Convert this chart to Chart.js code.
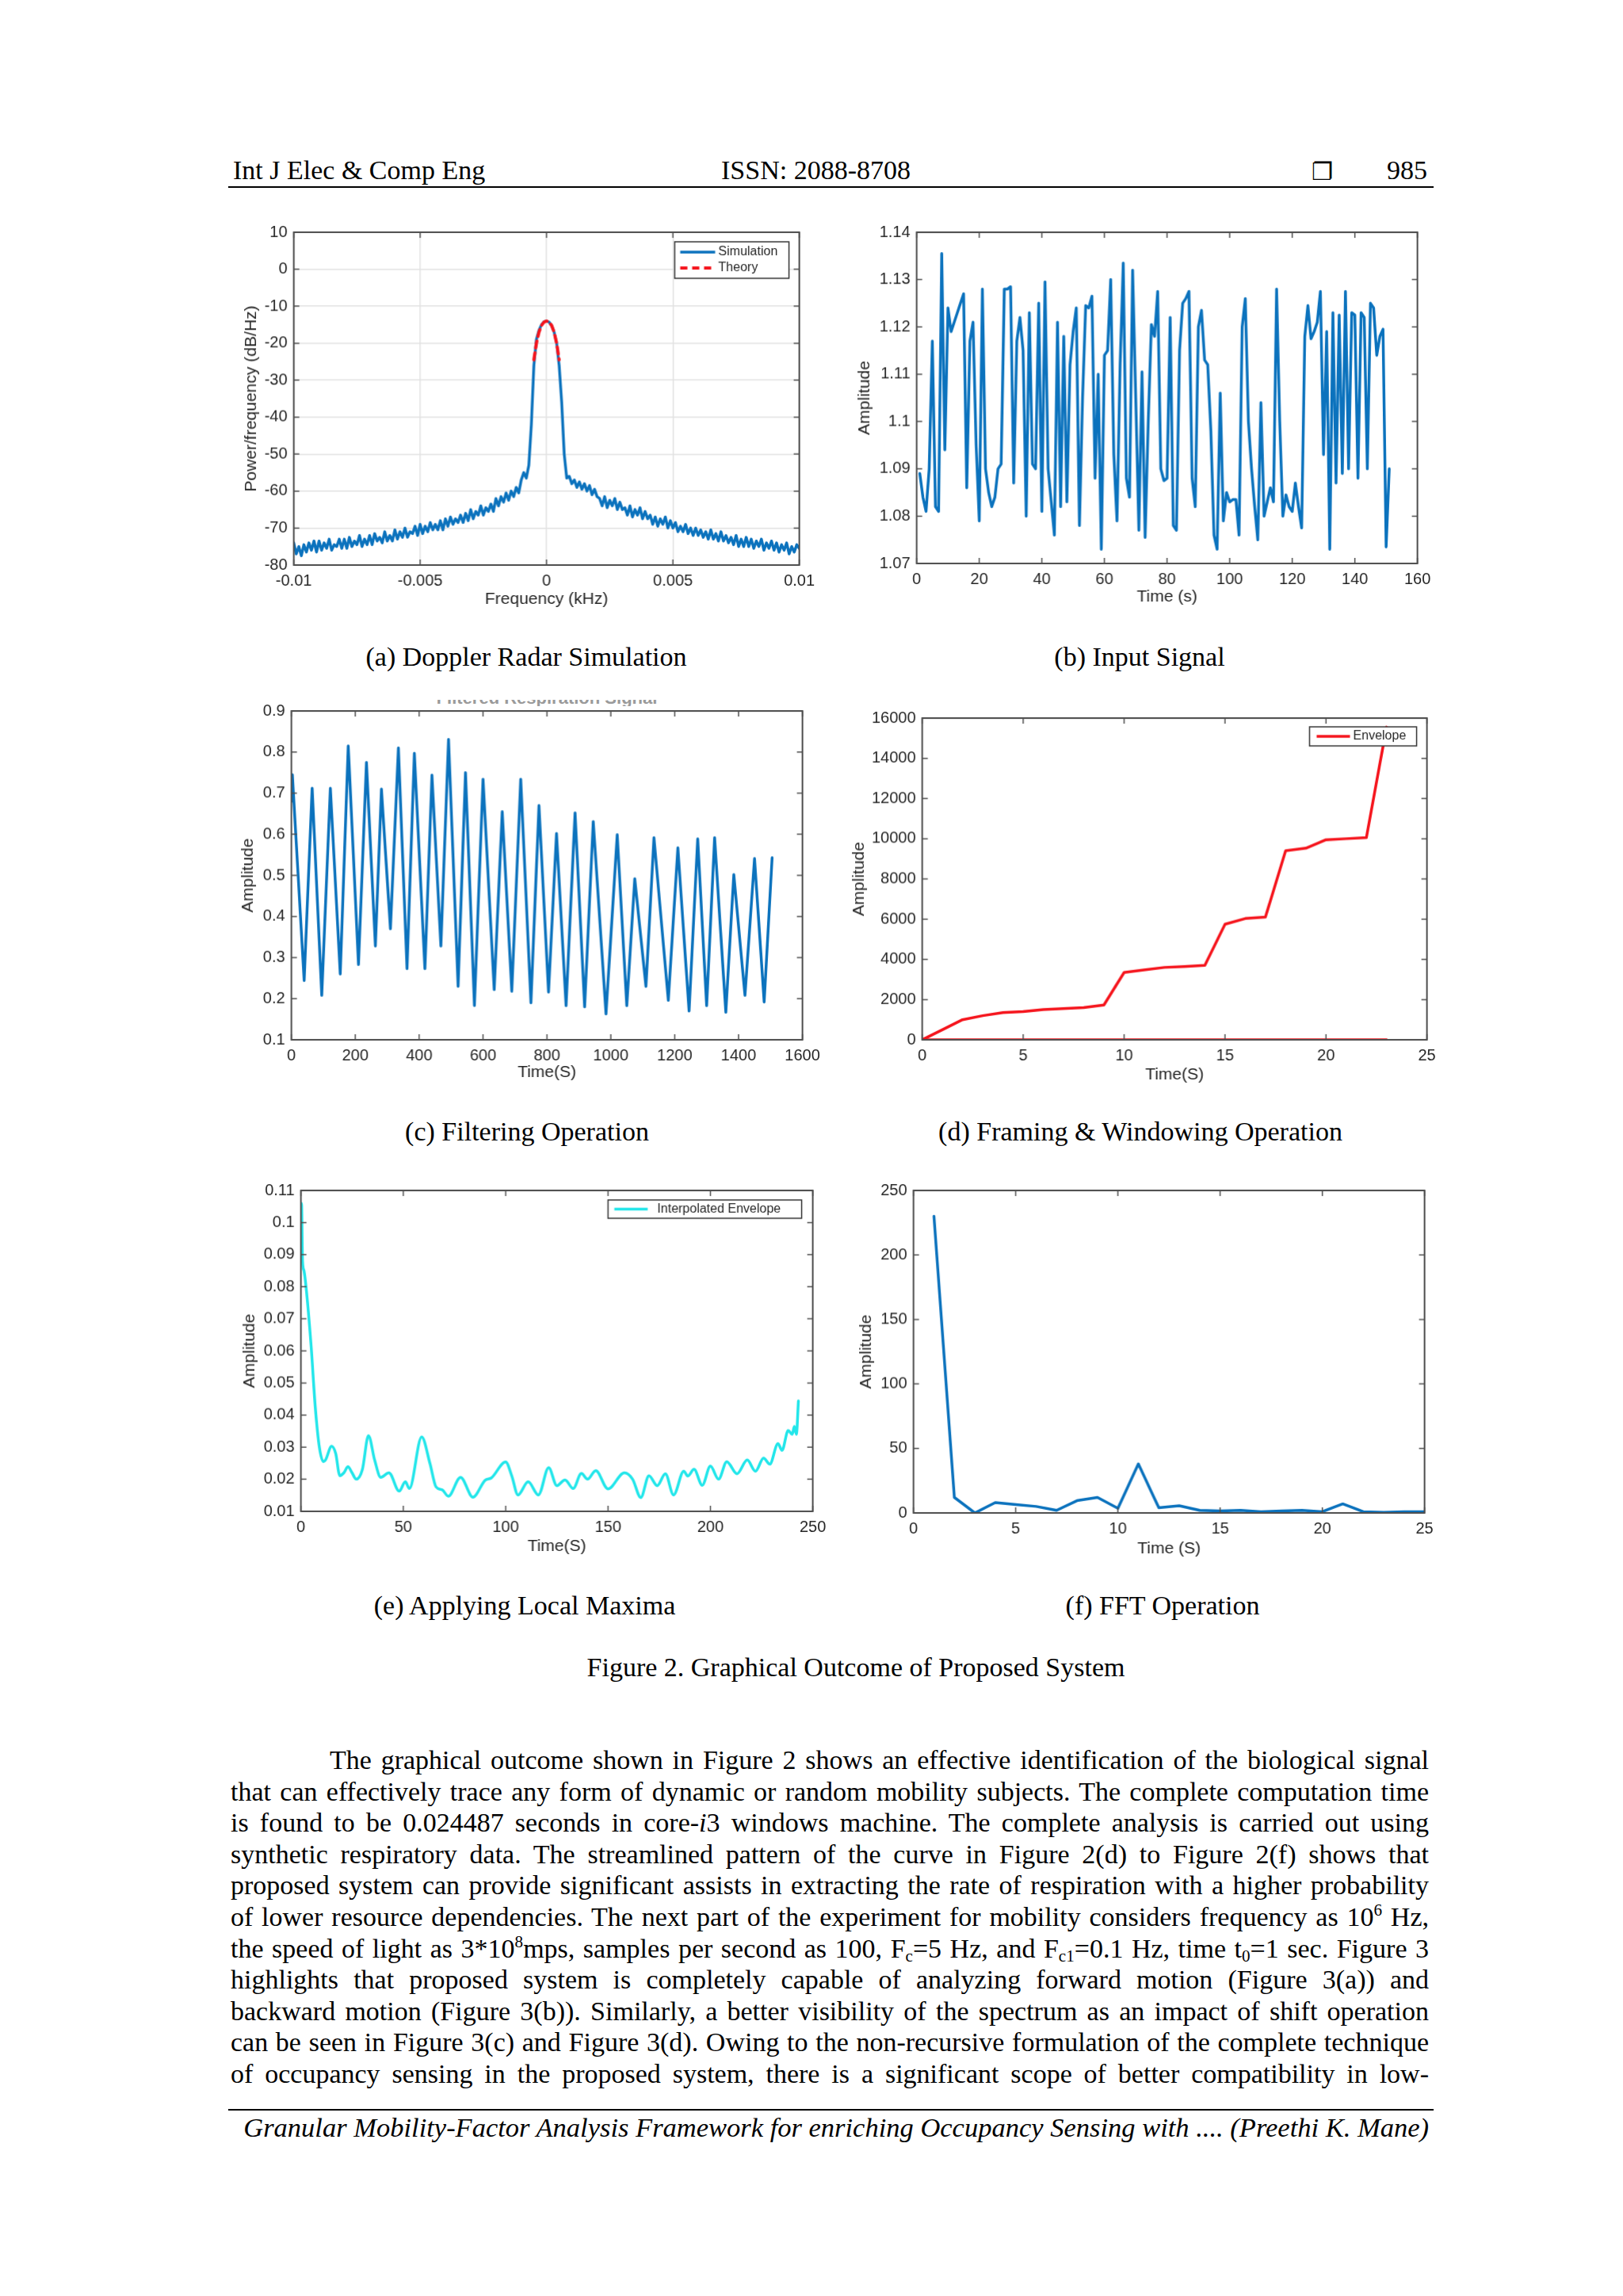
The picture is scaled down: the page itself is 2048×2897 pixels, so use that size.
<!DOCTYPE html>
<html>
<head>
<meta charset="utf-8">
<script src="https://cdn.jsdelivr.net/npm/chart.js@4.4.1/dist/chart.umd.min.js"></script>
<style>
html, body { margin: 0; padding: 0; background: #fff; }
#page { position: relative; width: 2048px; height: 2897px; overflow: hidden; background: #fff;
        font-family: 'Liberation Serif', 'Times New Roman', serif; color: #000; }
.t { position: absolute; white-space: nowrap; font-size: 34px; line-height: 34px; }
.c { transform: translateX(-50%); }
.rule { position: absolute; left: 288px; width: 1521px; height: 2px; background: #000; }
.line { position: absolute; left: 291px; width: 1512px; font-size: 34px; line-height: 34px;
        text-align: justify; text-align-last: justify; white-space: nowrap; }
sup, sub { font-size: 0.62em; line-height: 0; position: relative; vertical-align: baseline; }
sup { top: -0.6em; }
sub { top: 0.25em; }
.panel { position: absolute; }
</style>
</head>
<body>
<div id="page">
  <div class="t" style="left:294px;top:198px;">Int J Elec &amp; Comp Eng</div>
  <div class="t" style="left:910px;top:198px;">ISSN: 2088-8708</div>
  <div class="t" style="left:1655px;top:200px;font-family:'DejaVu Sans';font-size:30px;">❐</div>
  <div class="t" style="right:247px;top:198px;">985</div>
  <div class="rule" style="top:235px;"></div>

  <div style="position:absolute;left:500px;top:883px;width:380px;height:8px;overflow:hidden;">
    <div style="position:absolute;left:0;width:380px;top:-13px;text-align:center;font:bold 22px/22px 'Liberation Sans',Arial,sans-serif;color:#9a9a9a;">Filtered Respiration Signal</div>
  </div>

  <div class="t c" style="left:664px;top:812px;">(a) Doppler Radar Simulation</div>
  <div class="t c" style="left:1438px;top:812px;">(b) Input Signal</div>
  <div class="t c" style="left:665px;top:1411px;">(c) Filtering Operation</div>
  <div class="t c" style="left:1439px;top:1411px;">(d) Framing &amp; Windowing Operation</div>
  <div class="t c" style="left:662px;top:2009px;">(e) Applying Local Maxima</div>
  <div class="t c" style="left:1467px;top:2009px;">(f) FFT Operation</div>
  <div class="t c" style="left:1080px;top:2087px;">Figure 2. Graphical Outcome of Proposed System</div>

  <div class="line" style="top:2204px;left:416px;width:1387px;">The graphical outcome shown in Figure 2 shows an effective identification of the biological signal</div>
  <div class="line" style="top:2243.6px;">that can effectively trace any form of dynamic or random mobility subjects. The complete computation time</div>
  <div class="line" style="top:2283.2px;">is found to be 0.024487 seconds in core-<i>i</i>3 windows machine. The complete analysis is carried out using</div>
  <div class="line" style="top:2322.8px;">synthetic respiratory data. The streamlined pattern of the curve in Figure 2(d) to Figure 2(f) shows that</div>
  <div class="line" style="top:2362.4px;">proposed system can provide significant assists in extracting the rate of respiration with a higher probability</div>
  <div class="line" style="top:2402px;">of lower resource dependencies. The next part of the experiment for mobility considers frequency as 10<sup>6</sup> Hz,</div>
  <div class="line" style="top:2441.6px;">the speed of light as 3*10<sup>8</sup>mps, samples per second as 100, F<sub>c</sub>=5 Hz, and F<sub>c1</sub>=0.1 Hz, time t<sub>0</sub>=1 sec. Figure 3</div>
  <div class="line" style="top:2481.2px;">highlights that proposed system is completely capable of analyzing forward motion (Figure 3(a)) and</div>
  <div class="line" style="top:2520.8px;">backward motion (Figure 3(b)). Similarly, a better visibility of the spectrum as an impact of shift operation</div>
  <div class="line" style="top:2560.4px;">can be seen in Figure 3(c) and Figure 3(d). Owing to the non-recursive formulation of the complete technique</div>
  <div class="line" style="top:2600px;">of occupancy sensing in the proposed system, there is a significant scope of better compatibility in low-</div>

  <div class="rule" style="top:2661px;"></div>
  <div class="t" style="right:245px;top:2667px;font-style:italic;font-size:34.5px;">Granular Mobility-Factor Analysis Framework for enriching Occupancy Sensing with .... (Preethi K. Mane)</div>
</div>

<script>
// (a) Doppler radar simulation: PSD sampled every 0.0001 kHz from -0.01 kHz
const psdStartKHz = -0.01;
const psdStepKHz = 0.0001;
const psdDb = [
  -74, -77, -75, -77.5, -74.5, -76.5, -74, -76, -73.5, -76.5,
  -73.5, -76, -74, -75.5, -73, -76, -74.5, -75, -73, -75.5,
  -73, -75.5, -72.5, -75, -73.5, -74.5, -72, -75, -73, -74.5,
  -72, -74.5, -71.5, -73.5, -72.5, -74, -71, -73.5, -72, -73.5,
  -70.5, -73, -71, -72.5, -70, -72.5, -71, -71.5, -69.5, -72,
  -69, -71.5, -69.5, -71, -68.5, -70.5, -69, -70.5, -68, -70.5,
  -67.5, -69.5, -67, -69, -67.5, -68.5, -66.5, -68.5, -66, -68,
  -65, -67.5, -65.5, -66.5, -64, -66.5, -64.5, -65.5, -63.5, -65.5,
  -62, -64, -61.5, -63, -60.5, -62.5, -60, -61.5, -59, -60.5,
  -57, -55, -56.5, -53, -42, -26, -19, -16.5, -15, -14.2, -14, -14.3, -15.2, -17, -20, -26, -36, -50, -56.5, -56, -58,
  -57, -59, -57.5, -59.5, -58, -60, -58.5, -61, -59.5, -61.5,
  -62, -64, -61.5, -64.5, -62.5, -64, -62, -65, -63, -65,
  -64.5, -66.5, -64, -67, -65, -66.5, -64.5, -67.5, -65.5, -67.5,
  -66.5, -69, -67, -69.5, -67.5, -69, -67, -70, -68, -70,
  -68.5, -71, -69.5, -71, -69, -71.5, -70, -72, -70, -72,
  -70.5, -72.5, -71, -73, -70.5, -73, -71.5, -73.5, -71, -73.5,
  -72, -74, -72.5, -74.5, -72, -75, -73, -75, -72.5, -75,
  -73, -75.5, -73.5, -75, -73, -76, -74, -75.5, -73.5, -76,
  -74, -76.5, -74.5, -76, -74, -77, -75, -76.5, -74.5, -75.5
];
const theoryFreq = [-0.0005, -0.0004, -0.0003, -0.0002, -0.0001, 0, 0.0001, 0.0002, 0.0003, 0.0004, 0.0005];
const theoryDb = [-24.5, -20, -17, -15.2, -14.3, -14, -14.3, -15.2, -17, -20, -24.5];

// (b) input signal, one sample per second starting at t = 1 s
const inputStartS = 1;
const inputAmp = [
  1.089, 1.084, 1.081, 1.090, 1.117, 1.082, 1.081, 1.1355, 1.094, 1.124,
  1.119, 1.121, 1.123, 1.125, 1.127, 1.086, 1.117, 1.121, 1.095, 1.079,
  1.128, 1.090, 1.085, 1.082, 1.084, 1.090, 1.091, 1.128, 1.128, 1.1285,
  1.087, 1.117, 1.122, 1.115, 1.080, 1.123, 1.091, 1.090, 1.125, 1.081,
  1.1295, 1.090, 1.083, 1.076, 1.121, 1.082, 1.118, 1.083, 1.112, 1.119,
  1.124, 1.078, 1.105, 1.1245, 1.124, 1.1265, 1.088, 1.110, 1.073, 1.114,
  1.115, 1.130, 1.093, 1.079, 1.112, 1.1335, 1.088, 1.084, 1.132, 1.105,
  1.077, 1.1105, 1.0755, 1.100, 1.1205, 1.118, 1.1275, 1.090, 1.0875, 1.088,
  1.122, 1.078, 1.077, 1.115, 1.125, 1.126, 1.1275, 1.088, 1.082, 1.120,
  1.1235, 1.113, 1.112, 1.098, 1.076, 1.073, 1.106, 1.079, 1.085, 1.083,
  1.0835, 1.0835, 1.076, 1.120, 1.126, 1.100, 1.090, 1.082, 1.075, 1.104,
  1.080, 1.083, 1.086, 1.083, 1.128, 1.100, 1.080, 1.0845, 1.082, 1.081,
  1.087, 1.082, 1.0775, 1.118, 1.1245, 1.1175, 1.119, 1.121, 1.1275, 1.093,
  1.119, 1.073, 1.123, 1.087, 1.1225, 1.089, 1.1275, 1.090, 1.123, 1.1225,
  1.088, 1.123, 1.122, 1.090, 1.125, 1.124, 1.114, 1.118, 1.1195, 1.0735,
  1.090
];

// (c) filtered respiration signal (peaks and troughs)
const filtTime = [0, 3, 40, 65, 95, 122, 153, 178, 210, 235, 263, 282, 310, 335, 362, 385, 418, 440, 468, 492,
  522, 545, 573, 600, 635, 660, 690, 718, 750, 775, 805, 830, 860, 888, 918, 945, 985, 1020, 1050, 1075,
  1110, 1135, 1180, 1210, 1245, 1272, 1300, 1325, 1360, 1385, 1420, 1450, 1480, 1505];
const filtAmp = [0.68, 0.745, 0.244, 0.712, 0.208, 0.712, 0.26, 0.815, 0.283, 0.775, 0.328, 0.71, 0.37, 0.81, 0.273, 0.797, 0.273, 0.744, 0.328, 0.831,
  0.23, 0.75, 0.183, 0.734, 0.222, 0.655, 0.218, 0.734, 0.19, 0.67, 0.216, 0.602, 0.183, 0.652, 0.18, 0.631, 0.163, 0.599, 0.183, 0.492,
  0.23, 0.592, 0.196, 0.567, 0.17, 0.589, 0.183, 0.592, 0.167, 0.502, 0.208, 0.541, 0.192, 0.543];

// (d) framing & windowing envelope
const frameTime = [0, 1, 2, 3, 4, 5, 6, 7, 8, 9, 10, 11, 12, 13, 14, 15, 16, 17, 18, 19, 20, 21, 22, 23];
const frameEnvelope = [0, 500, 1000, 1200, 1350, 1400, 1500, 1550, 1600, 1730, 3350, 3480, 3600, 3640, 3700,
  5750, 6030, 6100, 9400, 9530, 9950, 10000, 10050, 15550];
const frameLower = [0, 0, 0, 0, 0, 0, 0, 0, 0, 0, 0, 0, 0, 0, 0, 0, 0, 0, 0, 0, 0, 0, 0, 0];

// (e) interpolated envelope after local maxima
const maxTime = [0, 0.3, 0.8, 1.5, 2.5, 5, 7, 9, 11, 12, 15, 17, 19, 21, 23, 25, 27, 30, 33, 36,
  39, 43, 48, 51, 53, 59, 63, 66, 69, 72, 78, 84, 90, 93, 100, 103, 106, 111, 116, 121,
  125, 129, 133, 137, 140, 144, 150, 158, 162, 166, 170, 174, 178, 182, 187, 189, 192, 196, 200, 204,
  208, 213, 218, 222, 226, 229, 233, 235, 238, 240, 241, 242, 243];
const maxEnvelope = [0.098, 0.106, 0.088, 0.085, 0.080, 0.0615, 0.0426, 0.030, 0.0255, 0.026, 0.0303, 0.028, 0.0211, 0.022, 0.0239, 0.022, 0.020, 0.023, 0.0336, 0.026,
  0.0206, 0.022, 0.0163, 0.0192, 0.0171, 0.0332, 0.025, 0.0176, 0.0167, 0.0147, 0.0206, 0.0144, 0.0197, 0.0204, 0.0254, 0.021, 0.0151, 0.0192, 0.0151, 0.0236,
  0.018, 0.0198, 0.0171, 0.0218, 0.020, 0.0227, 0.017, 0.022, 0.020, 0.0143, 0.0211, 0.018, 0.0217, 0.0151, 0.0225, 0.021, 0.0231, 0.0181, 0.0241, 0.020,
  0.0255, 0.0217, 0.026, 0.0225, 0.0266, 0.0247, 0.0311, 0.029, 0.0352, 0.034, 0.0365, 0.034, 0.0444];

// (f) FFT
const fftTime = [1, 2, 3, 4, 5, 6, 7, 8, 9, 10, 11, 12, 13, 14, 15, 16, 17, 18, 19, 20, 21, 22, 23, 24, 25];
const fftAmp = [230, 12, 0, 8, 6.5, 5, 2, 9.5, 12, 3.5, 38, 4, 5.5, 2, 1.5, 2, 1, 1.5, 2, 1, 7, 1, 0.5, 1, 1];

const sansFamily = "'Liberation Sans', Arial, sans-serif";
const tickFont = { family: sansFamily, size: 20 };
const titleFont = { family: sansFamily, size: 21 };
const inkColor = '#262626';
const axisColor = '#4d4d4d';
const matlabBlue = '#0b72bd';

function fmt(v) {
    return String(Number(v.toFixed(6)));
}

function pairs(xs, ys) {
    return ys.map((y, i) => ({ x: xs[i], y: y }));
}

// box round the plot with inward ticks on all four sides, like MATLAB
const matlabAxes = {
    id: 'matlabAxes',
    afterDatasetsDraw(chart) {
        const { ctx, chartArea: a, scales: { x, y } } = chart;
        const len = 7;
        ctx.save();
        ctx.strokeStyle = axisColor;
        ctx.lineWidth = 1.5;
        ctx.beginPath();
        x.ticks.forEach(t => {
            const px = x.getPixelForValue(t.value);
            ctx.moveTo(px, a.bottom); ctx.lineTo(px, a.bottom - len);
            ctx.moveTo(px, a.top); ctx.lineTo(px, a.top + len);
        });
        y.ticks.forEach(t => {
            const py = y.getPixelForValue(t.value);
            ctx.moveTo(a.left, py); ctx.lineTo(a.left + len, py);
            ctx.moveTo(a.right, py); ctx.lineTo(a.right - len, py);
        });
        ctx.stroke();
        ctx.lineWidth = 2;
        ctx.strokeRect(a.left, a.top, a.right - a.left, a.bottom - a.top);
        ctx.restore();
    }
};

// legend box inside the top right corner of the plot
const boxLegend = {
    id: 'boxLegend',
    afterDraw(chart, args, opts) {
        if (!opts.display) return;
        const { ctx, chartArea: a } = chart;
        const items = chart.data.datasets.filter(d => d.label);
        const x0 = a.right - opts.right - opts.width;
        const y0 = a.top + opts.top;
        const h = opts.rowHeight * items.length + opts.padY * 2;
        ctx.save();
        ctx.fillStyle = '#fff';
        ctx.fillRect(x0, y0, opts.width, h);
        ctx.strokeStyle = '#333';
        ctx.lineWidth = 1.5;
        ctx.strokeRect(x0, y0, opts.width, h);
        items.forEach((d, i) => {
            const cy = y0 + opts.padY + opts.rowHeight * (i + 0.5);
            ctx.strokeStyle = d.borderColor;
            ctx.lineWidth = d.borderWidth;
            ctx.setLineDash(d.borderDash || []);
            ctx.beginPath();
            ctx.moveTo(x0 + opts.lineStart, cy);
            ctx.lineTo(x0 + opts.lineStart + opts.lineLength, cy);
            ctx.stroke();
            ctx.setLineDash([]);
            ctx.fillStyle = inkColor;
            ctx.font = opts.fontSize + 'px ' + sansFamily;
            ctx.textBaseline = 'middle';
            ctx.fillText(d.label, x0 + opts.textStart, cy);
        });
        ctx.restore();
    }
};

function linearAxis(min, max, step, title, withGrid) {
    return {
        type: 'linear',
        min: min,
        max: max,
        ticks: { stepSize: step, font: tickFont, color: inkColor, padding: 8, autoSkip: false, maxRotation: 0, callback: fmt },
        grid: { display: !!withGrid, color: '#e2e2e2', lineWidth: 1.5, drawTicks: false },
        border: { display: false },
        title: { display: true, text: title, font: titleFont, color: inkColor, padding: { top: 0, bottom: 0 } }
    };
}

function makePanel(frame, datasets, xAxis, yAxis, legend) {
    const lh = titleFont.size * 1.2;
    const left = frame.yTitleX - lh / 2;
    const top = frame.t - 30;
    const right = frame.r + 40;
    const bottom = frame.xTitleY + lh / 2;

    const wrap = document.createElement('div');
    wrap.className = 'panel';
    wrap.style.left = left + 'px';
    wrap.style.top = top + 'px';
    wrap.style.width = (right - left) + 'px';
    wrap.style.height = (bottom - top) + 'px';
    const canvas = document.createElement('canvas');
    wrap.appendChild(canvas);
    document.getElementById('page').appendChild(wrap);

    xAxis.afterFit = s => { s.height = bottom - frame.b; };
    yAxis.afterFit = s => { s.width = frame.l - left; };

    new Chart(canvas, {
        type: 'line',
        data: { datasets: datasets },
        options: {
            responsive: true,
            maintainAspectRatio: false,
            animation: false,
            layout: { padding: { left: 0, top: frame.t - top, right: right - frame.r, bottom: 0 } },
            elements: {
                point: { radius: 0 },
                line: { tension: 0, borderJoinStyle: 'round', borderCapStyle: 'round' }
            },
            plugins: {
                legend: { display: false },
                tooltip: { enabled: false },
                boxLegend: legend || { display: false }
            },
            scales: { x: xAxis, y: yAxis }
        },
        plugins: [matlabAxes, boxLegend]
    });
}

function renderFigure() {
    // (a)
    makePanel(
        { l: 371, t: 293, r: 1008, b: 712, yTitleX: 318, xTitleY: 755 },
        [
            {
                label: 'Simulation',
                data: psdDb.map((v, i) => ({ x: psdStartKHz + i * psdStepKHz, y: v })),
                borderColor: matlabBlue, borderWidth: 3.5, order: 1
            },
            {
                label: 'Theory',
                data: pairs(theoryFreq, theoryDb),
                borderColor: '#f5141c', borderWidth: 4, borderDash: [9, 6], order: 0
            }
        ],
        linearAxis(-0.01, 0.01, 0.005, 'Frequency (kHz)', true),
        linearAxis(-80, 10, 10, 'Power/frequency (dB/Hz)', true),
        { display: true, right: 13, top: 12, width: 144, rowHeight: 20, padY: 3, lineStart: 7, lineLength: 44, textStart: 55, fontSize: 16 }
    );

    // (b)
    makePanel(
        { l: 1157, t: 293, r: 1788, b: 710, yTitleX: 1092, xTitleY: 752 },
        [{ data: inputAmp.map((v, i) => ({ x: inputStartS + i, y: v })), borderColor: matlabBlue, borderWidth: 3.5 }],
        linearAxis(0, 160, 20, 'Time (s)'),
        linearAxis(1.07, 1.14, 0.01, 'Amplitude')
    );

    // (c)
    makePanel(
        { l: 368, t: 897, r: 1012, b: 1311, yTitleX: 314, xTitleY: 1352 },
        [{ data: pairs(filtTime, filtAmp), borderColor: matlabBlue, borderWidth: 3.5 }],
        linearAxis(0, 1600, 200, 'Time(S)'),
        linearAxis(0.1, 0.9, 0.1, 'Amplitude')
    );

    // (d)
    makePanel(
        { l: 1164, t: 906, r: 1800, b: 1311, yTitleX: 1085, xTitleY: 1355 },
        [
            { label: 'Envelope', data: pairs(frameTime, frameEnvelope), borderColor: '#f5141c', borderWidth: 3.5 },
            { data: pairs(frameTime, frameLower), borderColor: '#f5141c', borderWidth: 3.5 }
        ],
        linearAxis(0, 25, 5, 'Time(S)'),
        linearAxis(0, 16000, 2000, 'Amplitude'),
        { display: true, right: 13, top: 11, width: 135, rowHeight: 20, padY: 2, lineStart: 9, lineLength: 42, textStart: 55, fontSize: 16 }
    );

    // (e)
    makePanel(
        { l: 380, t: 1502, r: 1025, b: 1906, yTitleX: 316, xTitleY: 1950 },
        [{
            label: 'Interpolated Envelope', data: pairs(maxTime, maxEnvelope),
            borderColor: '#22e6ea', borderWidth: 3.5, cubicInterpolationMode: 'monotone'
        }],
        linearAxis(0, 250, 50, 'Time(S)'),
        linearAxis(0.01, 0.11, 0.01, 'Amplitude'),
        { display: true, right: 14, top: 12, width: 244, rowHeight: 19, padY: 2, lineStart: 8, lineLength: 42, textStart: 62, fontSize: 16 }
    );

    // (f)
    makePanel(
        { l: 1153, t: 1502, r: 1797, b: 1908, yTitleX: 1094, xTitleY: 1953 },
        [{ data: pairs(fftTime, fftAmp), borderColor: matlabBlue, borderWidth: 3.5 }],
        linearAxis(0, 25, 5, 'Time (S)'),
        linearAxis(0, 250, 50, 'Amplitude')
    );
}

document.addEventListener('DOMContentLoaded', renderFigure);
</script>
</body>
</html>
